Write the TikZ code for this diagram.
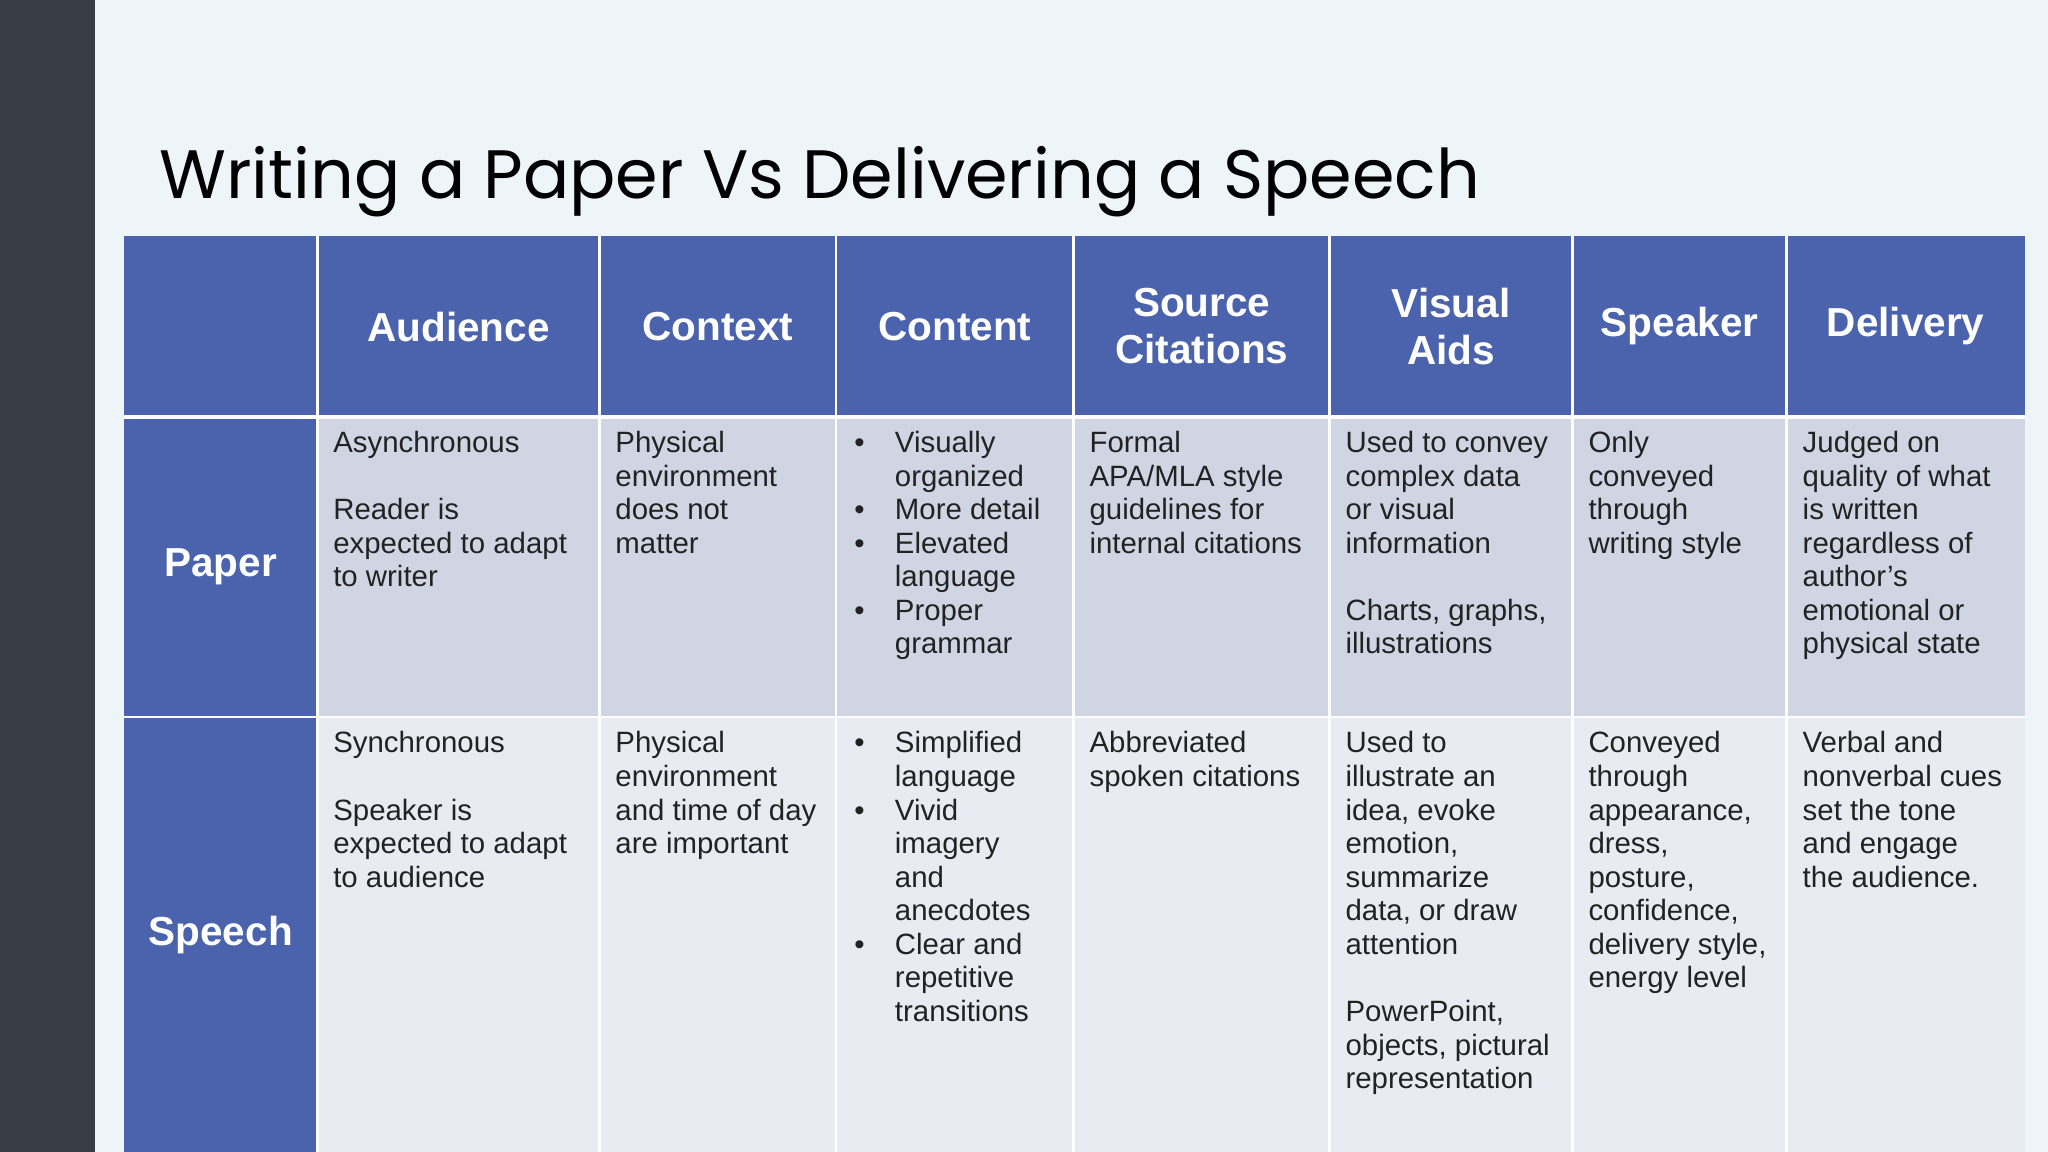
\documentclass[tikz,border=0pt]{standalone}
\usepackage{fontspec}
\setmainfont{Liberation Sans}
\newfontfamily\titlefont{Poppins}
\definecolor{bgc}{HTML}{EEF5F9}
\definecolor{barc}{HTML}{373D45}
\definecolor{hdr}{HTML}{4A63AC}
\definecolor{rowa}{HTML}{CFD5E3}
\definecolor{rowb}{HTML}{E8EBF1}
\definecolor{txt}{HTML}{222222}
\newcommand{\bl}{\makebox[33pt][l]{\hspace{2pt}•}}
\newcommand{\ind}{\hspace*{33pt}}
\tikzset{
  cell/.style={inner sep=0pt,outer sep=0pt},
  body/.style={anchor=north west,inner sep=0pt,align=left,text=txt,font=\fontsize{22.5}{25.7}\selectfont},
  head/.style={inner sep=0pt,align=center,text=white,font=\bfseries\fontsize{31}{36}\selectfont},
}
\begin{document}
\begin{tikzpicture}[x=1pt,y=-1pt]
\useasboundingbox (0,0) rectangle (1568,882);
\fill[bgc] (0,0) rectangle (1568,882);
\fill[barc] (0,0) rectangle (73,882);
\node[anchor=base west,inner sep=0pt] (title) at (122,152) {\resizebox{1011pt}{!}{\titlefont Writing a Paper Vs Delivering a Speech}};
% cells
\fill[hdr] (95,181) rectangle (1550,318);
\fill[hdr] (95,318) rectangle (243,882);
\fill[rowa] (243,320) rectangle (1550,548);
\fill[rowb] (243,550) rectangle (1550,882);
\foreach \x in {243,459,640,822,1018,1204,1368}{\draw[white,line width=2pt] (\x,181) -- (\x,882);}
\draw[white,line width=3pt] (95,319) -- (1550,319);
\draw[white,line width=2pt] (95,549) -- (1550,549);
% headers
\node[head] (h1) at (351,250) {Audience};
\node[head] (h2) at (549.5,250) {Context};
\node[head] (h3) at (731,250) {Content};
\node[head] (h4) at (920,250) {Source\\Citations};
\node[head] (h5) at (1111,250) {Visual\\Aids};
\node[head] (h6) at (1286,250) {Speaker};
\node[head] (h7) at (1459,250) {Delivery};
\node[head] (r1) at (169,434) {Paper};
\node[head] (r2) at (169,716) {Speech};
% paper row
\node[body] (p1) at (255,330) {Asynchronous\\[25.7pt]Reader is\\expected to adapt\\to writer};
\node[body] (p2) at (471,330) {Physical\\environment\\does not\\matter};
\node[body] (p3) at (652,330) {\bl Visually\\\ind organized\\\bl More detail\\\bl Elevated\\\ind language\\\bl Proper\\\ind grammar};
\node[body] (p4) at (834,330) {Formal\\APA/MLA style\\guidelines for\\internal citations};
\node[body] (p5) at (1030,330) {Used to convey\\complex data\\or visual\\information\\[25.7pt]Charts, graphs,\\illustrations};
\node[body] (p6) at (1216,330) {Only\\conveyed\\through\\writing style};
\node[body] (p7) at (1380,330) {Judged on\\quality of what\\is written\\regardless of\\author’s\\emotional or\\physical state};
% speech row
\node[body] (s1) at (255,560) {Synchronous\\[25.7pt]Speaker is\\expected to adapt\\to audience};
\node[body] (s2) at (471,560) {Physical\\environment\\and time of day\\are important};
\node[body] (s3) at (652,560) {\bl Simplified\\\ind language\\\bl Vivid\\\ind imagery\\\ind and\\\ind anecdotes\\\bl Clear and\\\ind repetitive\\\ind transitions};
\node[body] (s4) at (834,560) {Abbreviated\\spoken citations};
\node[body] (s5) at (1030,560) {Used to\\illustrate an\\idea, evoke\\emotion,\\summarize\\data, or draw\\attention\\[25.7pt]PowerPoint,\\objects, pictural\\representation};
\node[body] (s6) at (1216,560) {Conveyed\\through\\appearance,\\dress,\\posture,\\confidence,\\delivery style,\\energy level};
\node[body] (s7) at (1380,560) {Verbal and\\nonverbal cues\\set the tone\\and engage\\the audience.};
\end{tikzpicture}
\end{document}
